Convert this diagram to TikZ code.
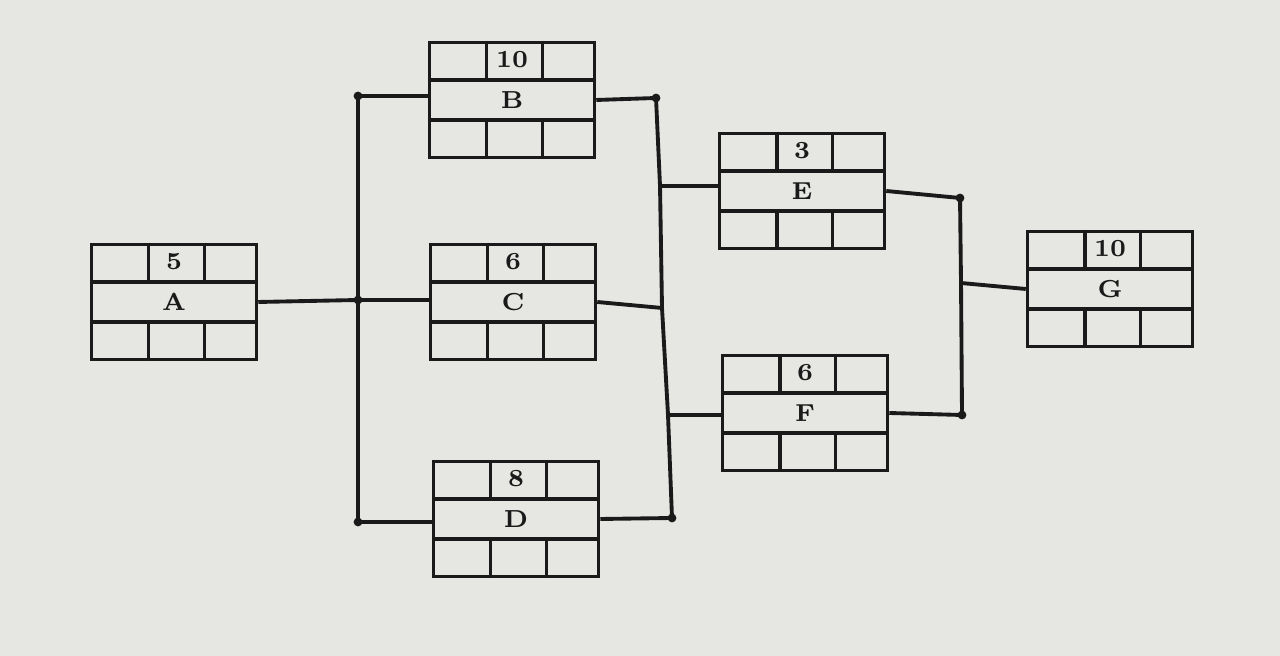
\documentclass[tikz,border=0pt]{standalone}
\usetikzlibrary{calc}
\definecolor{bg}{HTML}{E6E6E3}
\definecolor{ink}{HTML}{1A1A1A}
\tikzset{
  box/.style={draw=ink, line width=1pt, minimum width=1.65cm, minimum height=1.15cm, inner sep=0pt},
  lbl/.style={font=\fontsize{7}{8}\selectfont\bfseries, text=ink, inner sep=0pt},
  conn/.style={draw=ink, line width=1.1pt},
  cell/.style={draw=ink, line width=1pt},
  jdot/.style={circle, fill=ink, inner sep=0pt, minimum size=2.5pt}
}
\newcommand\actbox[5]{%
  \node[box] (#1) at (#2,#3) {};
  \draw[cell] ($(#1.north west)!0.333!(#1.south west)$) -- ($(#1.north east)!0.333!(#1.south east)$);
  \draw[cell] ($(#1.north west)!0.667!(#1.south west)$) -- ($(#1.north east)!0.667!(#1.south east)$);
  \draw[cell] ($(#1.north west)!0.35!(#1.north east)$) -- ++(0,-0.383);
  \draw[cell] ($(#1.north west)!0.68!(#1.north east)$) -- ++(0,-0.383);
  \draw[cell] ($(#1.south west)!0.35!(#1.south east)$) -- ++(0,0.383);
  \draw[cell] ($(#1.south west)!0.68!(#1.south east)$) -- ++(0,0.383);
  \node[lbl] (#1dur) at ($(#1.north)+(0,-0.19)$) {#4};
  \node[lbl] (#1name) at (#1.center) {#5};
}
\begin{document}
\begin{tikzpicture}
\fill[bg] (0,0) rectangle (12.8,6.56);
\useasboundingbox (0,0) rectangle (12.8,6.56);
\actbox{A}{1.74}{3.54}{5}{A}
\actbox{B}{5.12}{5.56}{10}{B}
\actbox{C}{5.13}{3.54}{6}{C}
\actbox{D}{5.16}{1.37}{8}{D}
\actbox{E}{8.02}{4.65}{3}{E}
\actbox{F}{8.05}{2.43}{6}{F}
\actbox{G}{11.10}{3.67}{10}{G}
\coordinate (jt) at (3.58,5.60);
\coordinate (jm) at (3.58,3.56);
\coordinate (jbt) at (3.58,1.34);
\coordinate (jb) at (6.56,5.58);
\coordinate (je) at (6.60,4.70);
\coordinate (jc) at (6.62,3.48);
\coordinate (jf) at (6.68,2.41);
\coordinate (jd) at (6.72,1.38);
\coordinate (ke) at (9.60,4.58);
\coordinate (kg) at (9.61,3.73);
\coordinate (kf) at (9.62,2.41);
\draw[conn] (A.east) -- (jm);
\draw[conn] (jt) -- (jm) -- (jbt);
\draw[conn] (jt) -- (jt -| B.west);
\draw[conn] (jm) -- (jm -| C.west);
\draw[conn] (jbt) -- (jbt -| D.west);
\draw[conn] (B.east) -- (jb);
\draw[conn] (C.east) -- (jc);
\draw[conn] (D.east) -- (jd);
\draw[conn] (jb) -- (je) -- (jc) -- (jf) -- (jd);
\draw[conn] (je) -- (je -| E.west);
\draw[conn] (jf) -- (jf -| F.west);
\draw[conn] (E.east) -- (ke);
\draw[conn] (F.east) -- (kf);
\draw[conn] (ke) -- (kg) -- (kf);
\draw[conn] (kg) -- (G.west);
\foreach \p in {jt,jm,jbt,jb,jd,ke,kf} \node[jdot] at (\p) {};
\end{tikzpicture}
\end{document}
